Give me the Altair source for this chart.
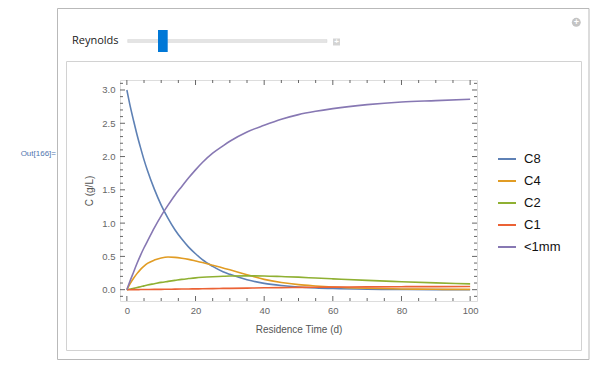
import altair as alt
import pandas as pd

# ---------------- data ----------------
t = [0, 1, 2, 3, 4, 5, 6, 8, 10, 12, 14, 16, 18, 20, 22, 25, 28, 30, 35, 40, 45, 50, 55, 60, 70, 80, 90, 100]
c8 = [3.00, 2.75, 2.53, 2.32, 2.13, 1.95, 1.79, 1.51, 1.27, 1.07, 0.90, 0.76, 0.64, 0.54, 0.45, 0.35, 0.27, 0.23,
      0.15, 0.095, 0.062, 0.040, 0.026, 0.017, 0.007, 0.003, 0.001, 0.000]
c4 = [0.0, 0.095, 0.175, 0.245, 0.305, 0.355, 0.395, 0.445, 0.476, 0.49, 0.486, 0.473, 0.455, 0.432, 0.408, 0.368,
      0.326, 0.298, 0.225, 0.155, 0.108, 0.076, 0.056, 0.04, 0.021, 0.011, 0.006, 0.004]
c2 = [0.0, 0.01, 0.02, 0.032, 0.045, 0.057, 0.07, 0.09, 0.11, 0.125, 0.14, 0.155, 0.167, 0.178, 0.186, 0.195, 0.202,
      0.205, 0.208, 0.205, 0.197, 0.188, 0.175, 0.163, 0.14, 0.12, 0.102, 0.087]
c1 = [0.0, 0.0, 0.001, 0.001, 0.002, 0.002, 0.003, 0.004, 0.005, 0.007, 0.008, 0.010, 0.011, 0.012, 0.014, 0.016,
      0.019, 0.020, 0.024, 0.028, 0.031, 0.034, 0.037, 0.039, 0.042, 0.045, 0.046, 0.047]
fine = [0.0, 0.14, 0.27, 0.40, 0.52, 0.63, 0.73, 0.93, 1.11, 1.27, 1.42, 1.55, 1.68, 1.80, 1.91, 2.05, 2.16, 2.23,
        2.37, 2.47, 2.56, 2.63, 2.68, 2.72, 2.78, 2.82, 2.84, 2.86]

series_names = ["C8", "C4", "C2", "C1", "<1mm"]
series_colors = ["#5E81B5", "#E19C24", "#8FB032", "#EB6235", "#8778B3"]

x_major = [0, 20, 40, 60, 80, 100]
x_minor = [5, 10, 15, 25, 30, 35, 45, 50, 55, 65, 70, 75, 85, 90, 95]
y_major = [0.0, 0.5, 1.0, 1.5, 2.0, 2.5, 3.0]
y_minor = [-0.1, 0.1, 0.2, 0.3, 0.4, 0.6, 0.7, 0.8, 0.9, 1.1, 1.2, 1.3, 1.4, 1.6, 1.7, 1.8, 1.9,
           2.1, 2.2, 2.3, 2.4, 2.6, 2.7, 2.8, 2.9, 3.1]

x_title = "Residence Time (d)"
y_title = "C (g/L)"
slider_label = "Reynolds"
out_label = "Out[166]="

# ---------------- build tables ----------------
rows = []
for name, vals in zip(series_names, [c8, c4, c2, c1, fine]):
    for ti, v in zip(t, vals):
        rows.append({"t": ti, "C": v, "series": name})
df = pd.DataFrame(rows)

W, H = 357, 221
FRAME = "#666666"
LABEL = "#666666"
FONT = "Liberation Sans"

xscale = alt.Scale(domain=[-2, 102], nice=False, zero=False)
yscale = alt.Scale(domain=[-0.17, 3.15], nice=False, zero=False)

xaxis = alt.Axis(title=x_title, values=x_major, format="d", ticks=False, domain=False, grid=False,
                 labelFont=FONT, labelFontSize=9.5, labelColor=LABEL, labelPadding=4,
                 titleFont=FONT, titleFontSize=10, titleColor="#555555", titleFontWeight="normal",
                 titleY=28, titleBaseline="middle")
yaxis = alt.Axis(title=y_title, values=y_major, format=".1f", ticks=False, domain=False, grid=False,
                 labelFont=FONT, labelFontSize=9.5, labelColor=LABEL, labelPadding=5,
                 titleFont=FONT, titleFontSize=10, titleColor="#555555", titleFontWeight="normal",
                 titleX=-31, titleY=H / 2, titleAngle=270, titleAlign="center", titleBaseline="middle")

one = pd.DataFrame({"a": [0]})


def rect(x, x2, y, y2, **kw):
    return alt.Chart(one).mark_rect(**kw).encode(
        x=alt.value(x), x2=alt.value(x2), y=alt.value(y), y2=alt.value(y2))


def text(x, y, s, **kw):
    return alt.Chart(one).mark_text(**kw).encode(x=alt.value(x), y=alt.value(y), text=alt.value(s))


# decorations of the notebook output cell
outer = rect(-62.5, 469, -71.5, 279.5, fillOpacity=0, stroke="#b9b9b9", strokeWidth=1)
inner = rect(-53.5, 461.5, -18.5, 270.5, fillOpacity=0, stroke="#d2d2d2", strokeWidth=1)
track = rect(7.7, 207, -40.5, -37.5, fill="#e4e4e4", stroke="#d6d6d6", strokeWidth=0.5)
thumb = rect(38, 47.7, -50, -28, fill="#0078d7")
pbox = rect(213, 220, -41.5, -34.5, fill="#d4d4d4")
ptxt = text(216.5, -38, "+", font=FONT, fontSize=8, color="white", fontWeight="bold", baseline="middle")
rey = text(-48, -39, slider_label, font="Open Sans", fontSize=11, color="#1a1a1a", align="left", baseline="middle")
outl = text(-64, 74, out_label, font=FONT, fontSize=8, color="#4f75ae", align="right", baseline="middle")
icon = alt.Chart(one).mark_point(shape="circle", filled=True, color="#c4c4c4", size=80, opacity=1).encode(
    x=alt.value(456.3), y=alt.value(-57.7))
icon_t = text(456.3, -57.7, "+", font=FONT, fontSize=9, color="white", fontWeight="bold", baseline="middle")


def xticks(vals, y, y2):
    return alt.Chart(pd.DataFrame({"t": vals})).mark_rule(color=FRAME, strokeWidth=1).encode(
        x=alt.X("t:Q", scale=xscale, axis=xaxis), y=alt.value(y), y2=alt.value(y2))


def yticks(vals, x, x2):
    return alt.Chart(pd.DataFrame({"C": vals})).mark_rule(color=FRAME, strokeWidth=1).encode(
        y=alt.Y("C:Q", scale=yscale, axis=yaxis), x=alt.value(x), x2=alt.value(x2))


ticks = [
    xticks(x_major, H, H - 5), xticks(x_minor, H, H - 3),
    xticks(x_major, 0, 5), xticks(x_minor, 0, 3),
    yticks(y_major, 0, 5), yticks(y_minor, 0, 3),
    yticks(y_major, W, W - 5), yticks(y_minor, W, W - 3),
]

lines = alt.Chart(df).mark_line(strokeWidth=1.6, interpolate="monotone").encode(
    x=alt.X("t:Q", scale=xscale, axis=xaxis),
    y=alt.Y("C:Q", scale=yscale, axis=yaxis),
    color=alt.Color("series:N", scale=alt.Scale(domain=series_names, range=series_colors),
                    legend=alt.Legend(title=None, orient="none", legendX=377, legendY=69, symbolType="stroke",
                                      symbolSize=324, symbolStrokeWidth=2, labelFont=FONT, labelFontSize=13,
                                      labelColor="#111111", rowPadding=5, labelOffset=7, padding=0)),
)

chart = alt.layer(
    lines, outer, inner, track, thumb, pbox, ptxt, rey, outl, icon, icon_t, *ticks
).properties(
    width=W, height=H,
    autosize=alt.AutoSizeParams(type="none"),
    padding={"left": 112, "top": 72, "right": 113, "bottom": 60},
).configure_view(stroke=FRAME, strokeWidth=1).configure(background="white")

chart.save("out.html", embed_options={"renderer": "svg", "actions": False})
